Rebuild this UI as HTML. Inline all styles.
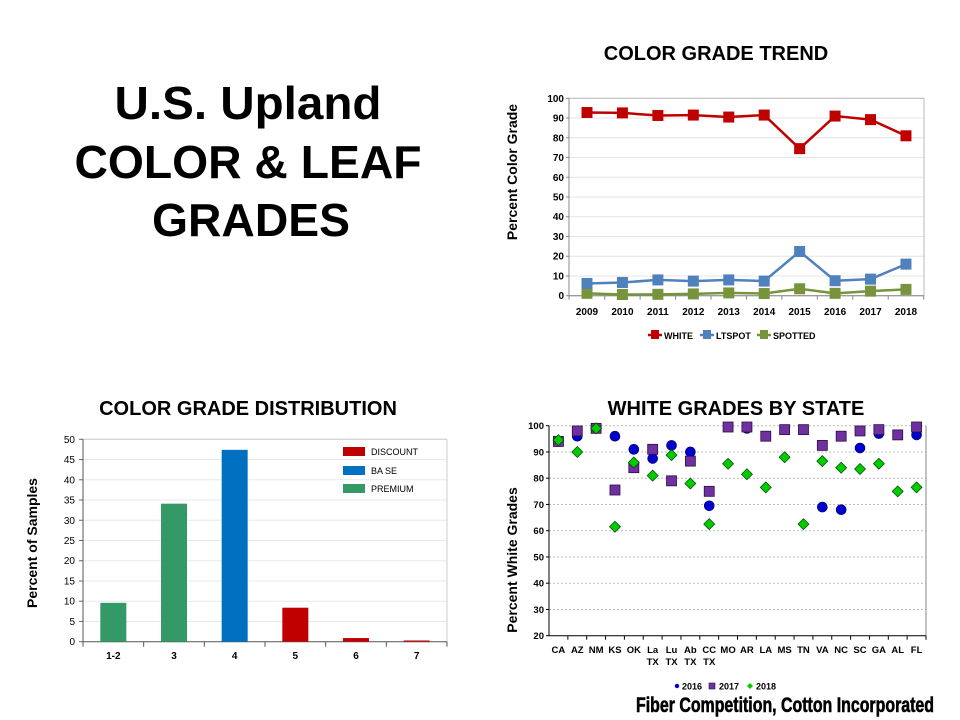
<!DOCTYPE html>
<html><head><meta charset="utf-8"><style>
html,body{margin:0;padding:0;background:#fff;}
svg{display:block;font-family:"Liberation Sans",Arial,sans-serif;}
</style></head><body>
<svg id="s" width="960" height="720" xmlns="http://www.w3.org/2000/svg">
<rect width="960" height="720" fill="#fff"/>
<g font-weight="bold" font-size="46" text-anchor="middle" fill="#000">
<text x="248" y="119" textLength="267" lengthAdjust="spacingAndGlyphs">U.S. Upland</text>
<text x="248" y="178" textLength="347" lengthAdjust="spacingAndGlyphs">COLOR &amp; LEAF</text>
<text x="251" y="236" textLength="198" lengthAdjust="spacingAndGlyphs">GRADES</text>
</g>
<g font-weight="bold" font-size="20" text-anchor="middle" fill="#000">
<text x="716" y="60">COLOR GRADE TREND</text>
<text x="248" y="415">COLOR GRADE DISTRIBUTION</text>
<text x="736" y="415">WHITE GRADES BY STATE</text>
</g>
<text x="934" y="712" text-anchor="end" font-family="Liberation Sans Narrow,Liberation Sans,sans-serif" font-weight="bold" font-size="21" stroke="#000" stroke-width="0.6" textLength="298" lengthAdjust="spacingAndGlyphs">Fiber Competition, Cotton Incorporated</text>
<g id="g"></g>
</svg>
<script>
var g=document.getElementById('g'),h='';
function ln(x1,y1,x2,y2,c,w,d){h+='<line x1="'+x1+'" y1="'+y1+'" x2="'+x2+'" y2="'+y2+'" stroke="'+c+'" stroke-width="'+(w||1)+'"'+(d?' stroke-dasharray="'+d+'"':'')+'/>';}
function tx(x,y,t,s,a,extra){h+='<text x="'+x+'" y="'+y+'" font-size="'+s+'" text-anchor="'+(a||'middle')+'" '+(extra||'')+'>'+t+'</text>';}
// Chart 1
var L=569,R=924,T=98.3,B=295.7;
function y1(v){return B-(B-T)*v/100;}
for(var v=0;v<=100;v+=10){if(v>0)ln(L,y1(v),R,y1(v),'#e4e4e4',1);tx(L-5,y1(v)+3.5,v,10,'end','font-weight="bold"');ln(L-3,y1(v),L,y1(v),'#888');}
h+='<rect x="'+L+'" y="'+T+'" width="'+(R-L)+'" height="'+(B-T)+'" fill="none" stroke="#bbb"/>';
ln(L,T,L,B,'#888');ln(L,B,R,B,'#888');
var yrs=[2009,2010,2011,2012,2013,2014,2015,2016,2017,2018];
function x1(i){return 587+i*35.44;}
for(var i=0;i<10;i++){tx(x1(i),315,yrs[i],10,'middle','font-weight="bold"');ln(x1(i)+17.7,B,x1(i)+17.7,B+4,'#888');}
ln(L,B,L,B+4,'#888');
var S=[[[92.8,92.6,91.3,91.5,90.5,91.5,74.5,91,89.2,81],'#c00000'],[[6.2,6.7,8,7.4,8,7.4,22.4,7.6,8.4,16],'#4f81bd'],[[1.2,0.6,0.7,0.9,1.4,1.1,3.5,1.2,2.3,3.2],'#77933c']];
S.slice().reverse().forEach(function(s){var p=s[0].map(function(v,i){return x1(i)+','+y1(v)}).join(' ');h+='<polyline points="'+p+'" fill="none" stroke="'+s[1]+'" stroke-width="2.5"/>';s[0].forEach(function(v,i){h+='<rect x="'+(x1(i)-5.5)+'" y="'+(y1(v)-5.5)+'" width="11" height="11" fill="'+s[1]+'"/>';});});
var lg=[['WHITE',648,'#c00000'],['LTSPOT',700,'#4f81bd'],['SPOTTED',757,'#77933c']];
lg.forEach(function(l){ln(l[1],335,l[1]+14,335,l[2],2.5);h+='<rect x="'+(l[1]+3)+'" y="330" width="8" height="9" fill="'+l[2]+'"/>';tx(l[1]+16,339,l[0],9,'start','font-weight="bold"');});
h+='<text transform="translate(517,172) rotate(-90)" font-size="14" font-weight="bold" text-anchor="middle">Percent Color Grade</text>';
// Chart 2
L=83;R=447;T=439.3;B=641.7;
function y2(v){return B-(B-T)*v/50;}
for(v=0;v<=50;v+=5){if(v>0)ln(L,y2(v),R,y2(v),'#e8e8e8',1);tx(L-8,y2(v)+3.5,v,10,'end');ln(L-4,y2(v),L,y2(v),'#666');}
ln(R,T,R,B,'#ccc');ln(L,T,R,T,'#ccc');
ln(L,T,L,B,'#555');ln(L,B,R,B,'#555');
var cat=['1-2','3','4','5','6','7'],vals=[9.6,34.1,47.4,8.4,0.9,0.3],cols=['#339966','#339966','#0070c0','#c00000','#c00000','#c00000'];
var cw=(R-L)/6;
for(i=0;i<6;i++){var cx=L+cw*(i+0.5);h+='<rect x="'+(cx-13)+'" y="'+y2(vals[i])+'" width="26" height="'+(B-y2(vals[i]))+'" fill="'+cols[i]+'"/>';tx(cx,659,cat[i],10,'middle','font-weight="bold"');ln(L+cw*(i+1),B,L+cw*(i+1),B+5,'#555');}
ln(L,B,L,B+5,'#555');
[['DISCOUNT','#c00000',451],['BA SE','#0070c0',470],['PREMIUM','#339966',488]].forEach(function(l){h+='<rect x="343" y="'+(l[2]-4)+'" width="22" height="9" fill="'+l[1]+'"/>';tx(371,l[2]+4,l[0],9,'start');});
h+='<text transform="translate(37,543) rotate(-90)" font-size="14" font-weight="bold" text-anchor="middle">Percent of Samples</text>';
// Chart 3
L=549;R=926;T=425.7;B=635.7;
function y3(v){return B-(B-T)*(v-20)/80;}
for(v=20;v<=100;v+=10){if(v>20)ln(L,y3(v),R,y3(v),'#bbb',1,'2,2');tx(L-5,y3(v)+3.5,v,9.5,'end','font-weight="bold"');ln(L-3,y3(v),L,y3(v),'#000');}
ln(R,T,R,B,'#888');
ln(L,T,L,B,'#000');ln(L,B,R,B,'#000');
var st=['CA','AZ','NM','KS','OK','La|TX','Lu|TX','Ab|TX','CC|TX','MO','AR','LA','MS','TN','VA','NC','SC','GA','AL','FL'];
var d16=[94,96,99,96,91,87.5,92.5,90,69.5,null,99,null,null,null,69,68,91.5,97,null,96.5];
var d17=[94,98,99,75.5,84,91,79,86.5,75,99.5,99.5,96,98.5,98.5,92.5,96,98,98.5,96.5,99.5];
var d18=[94.5,90,99,61.5,86,81,88.8,78,62.5,85.5,81.5,76.5,88,62.5,86.5,84,83.5,85.5,75,76.5];
var sw=(R-L)/20;
for(i=0;i<20;i++){var x=L+sw*(i+0.5);var p=st[i].split('|');tx(x,653,p[0],9.5,'middle','font-weight="bold"');if(p[1])tx(x,665,p[1],9.5,'middle','font-weight="bold"');ln(L+sw*(i+1),B,L+sw*(i+1),B+4,'#000');
if(d16[i]!=null)h+='<circle cx="'+x+'" cy="'+y3(d16[i])+'" r="5" fill="#0000cc" stroke="#000066" stroke-width="0.6"/>';
h+='<rect x="'+(x-5)+'" y="'+(y3(d17[i])-5)+'" width="10" height="10" fill="#7030a0" stroke="#2a1040" stroke-width="0.8"/>';
var yy=y3(d18[i]);h+='<polygon points="'+x+','+(yy-5.5)+' '+(x+5.5)+','+yy+' '+x+','+(yy+5.5)+' '+(x-5.5)+','+yy+'" fill="#00cc00" stroke="#004400" stroke-width="0.7"/>';}
h+='<circle cx="677" cy="686" r="2.2" fill="#0000cc"/>';tx(682,689.5,'2016',9,'start','font-weight="bold"');
h+='<rect x="709" y="683" width="6" height="6" fill="#7030a0" stroke="#2a1040" stroke-width="0.6"/>';tx(719,689.5,'2017',9,'start','font-weight="bold"');
h+='<polygon points="750,683 753,686 750,689 747,686" fill="#00cc00"/>';tx(756,689.5,'2018',9,'start','font-weight="bold"');
h+='<text transform="translate(517,560) rotate(-90)" font-size="14" font-weight="bold" text-anchor="middle">Percent White Grades</text>';
g.innerHTML=h;
</script>
</body></html>
